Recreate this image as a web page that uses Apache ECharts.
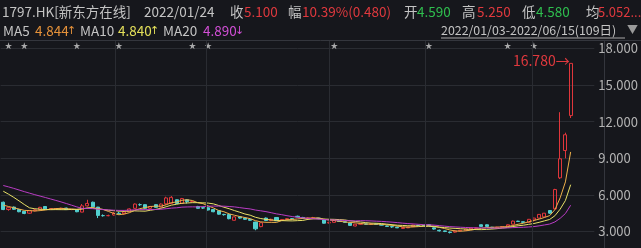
<!DOCTYPE html>
<html><head><meta charset="utf-8">
<script src="https://cdn.jsdelivr.net/npm/echarts@6/dist/echarts.min.js"></script>
<style>html,body{margin:0;padding:0;background:#16171c;}#c{width:641px;height:248px;}</style>
</head><body><div id="c"></div>
<script>
// ---- data (1797.HK 新东方在线, 2022/01/03 - 2022/06/15, 109 trading days) ----
const dates = [
'01/03','01/04','01/05','01/06','01/07','01/10','01/11','01/12','01/13','01/14','01/17','01/18','01/19','01/20','01/21','01/24','01/25','01/26','01/27','01/28','01/31',
'02/04','02/07','02/08','02/09','02/10','02/11','02/14','02/15','02/16','02/17','02/18','02/21','02/22','02/23','02/24','02/25','02/28',
'03/01','03/02','03/03','03/04','03/07','03/08','03/09','03/10','03/11','03/14','03/15','03/16','03/17','03/18','03/21','03/22','03/23','03/24','03/25','03/28','03/29','03/30','03/31',
'04/01','04/04','04/06','04/07','04/08','04/11','04/12','04/13','04/14','04/19','04/20','04/21','04/22','04/25','04/26','04/27','04/28','04/29',
'05/03','05/04','05/05','05/06','05/10','05/11','05/12','05/13','05/16','05/17','05/18','05/19','05/20','05/23','05/24','05/25','05/26','05/27','05/30','05/31',
'06/01','06/02','06/06','06/07','06/08','06/09','06/10','06/13','06/14','06/15'];
const opens = [
5.40,4.80,5.00,4.80,4.65,4.50,4.70,4.80,5.05,4.86,4.85,4.85,4.92,4.80,4.78,4.59,5.10,5.40,5.00,4.30,4.30,
4.35,4.50,4.45,4.62,4.90,5.20,5.20,4.90,5.20,5.00,5.27,5.30,5.60,5.30,5.60,5.45,5.05,
4.95,4.95,4.80,4.70,4.40,4.39,3.92,4.20,4.10,4.00,3.77,3.40,4.10,3.90,4.15,3.90,4.00,4.05,4.25,4.15,4.05,4.10,4.10,
3.95,3.70,3.75,3.88,3.80,3.70,3.45,3.60,3.62,3.60,3.62,3.58,3.45,3.40,3.35,3.25,3.30,3.40,
3.50,3.50,3.55,3.30,3.10,3.05,2.95,2.95,3.05,3.10,3.20,3.25,3.55,3.55,3.35,3.30,3.35,3.45,3.60,3.85,
3.80,3.75,3.95,4.10,4.20,4.72,4.86,7.40,9.64,12.50];
const closes = [
4.80,4.95,4.82,4.62,4.48,4.70,4.78,4.98,4.86,4.88,4.88,4.90,4.80,4.80,4.62,5.10,5.30,5.02,4.32,4.30,4.30,
4.50,4.45,4.60,4.85,5.25,5.20,4.90,5.05,4.98,5.25,5.75,5.80,5.30,5.70,5.45,5.45,4.90,
4.92,4.76,4.62,4.42,4.38,4.05,4.20,4.10,4.00,3.92,3.22,3.72,3.90,4.00,3.88,3.98,4.05,4.02,4.20,4.10,4.10,4.12,4.05,
3.68,3.75,3.90,3.82,3.75,3.50,3.60,3.62,3.60,3.62,3.58,3.52,3.42,3.38,3.30,3.32,3.36,3.52,
3.50,3.48,3.48,3.20,3.05,3.00,2.92,3.05,3.10,3.20,3.28,3.30,3.42,3.42,3.30,3.35,3.40,3.55,3.85,3.82,
3.75,4.00,4.10,4.40,4.50,4.50,6.44,8.96,10.93,16.78];
const lows = [
4.75,4.70,4.78,4.58,4.42,4.45,4.65,4.78,4.82,4.80,4.80,4.82,4.76,4.75,4.58,4.58,5.05,4.98,4.10,4.22,4.25,
4.30,4.40,4.40,4.58,4.85,5.10,4.86,4.85,4.95,4.98,5.20,5.25,5.25,5.28,5.30,5.40,4.88,
4.85,4.72,4.58,4.38,4.30,4.00,3.90,4.05,3.95,3.88,3.10,3.35,3.85,3.85,3.85,3.88,3.95,3.98,4.15,4.05,4.00,4.05,4.00,
3.65,3.65,3.72,3.78,3.72,3.48,3.42,3.55,3.56,3.55,3.55,3.50,3.40,3.30,3.28,3.22,3.28,3.38,
3.45,3.44,3.45,3.15,3.00,2.95,2.84,2.90,3.02,3.08,3.15,3.20,3.40,3.40,3.25,3.28,3.32,3.42,3.58,3.78,
3.70,3.72,3.82,4.08,4.18,4.45,4.80,7.30,9.00,12.30];
const highs = [
5.45,5.00,5.05,4.85,4.68,4.75,4.85,5.02,5.08,4.92,4.92,4.95,4.95,4.85,4.82,5.25,5.60,5.45,5.02,4.40,4.38,
4.60,4.62,4.65,4.90,5.30,5.30,5.22,5.10,5.22,5.30,5.85,5.90,5.62,5.75,5.65,5.50,5.10,
5.00,5.00,4.85,4.72,4.45,4.42,4.25,4.25,4.12,4.02,3.80,3.78,4.15,4.05,4.18,4.02,4.10,4.10,4.30,4.20,4.15,4.20,4.12,
3.98,3.80,3.95,3.90,3.82,3.72,3.62,3.66,3.66,3.65,3.65,3.60,3.48,3.42,3.40,3.35,3.40,3.55,
3.55,3.55,3.58,3.32,3.15,3.08,3.00,3.08,3.12,3.22,3.30,3.32,3.58,3.58,3.38,3.38,3.42,3.58,3.90,3.88,
3.82,4.02,4.12,4.42,4.52,4.75,6.50,12.78,11.10,16.78];
// closes of the trading days before 2022/01/03 (warm-up for the moving averages)
const priorCloses = [7.20,7.30,7.25,7.15,7.20,7.30,7.25,7.20,7.25,7.30,7.35,7.45,7.50,7.45,7.42,5.55,5.30,5.18,5.00];
const yTicks = {min: 3, max: 18, step: 3};
const newsDays = [1,4,14,22,36,39,63,81,96,101];
const monthStarts = [21,38,61,79,99];
const header = {
  code: '1797.HK[新东方在线]', date: '2022/01/24', close: '5.100', chg: '10.39%(0.480)',
  open: '4.590', high: '5.250', low: '4.580', avg: '5.052...',
  ma5: '4.844', ma10: '4.840', ma20: '4.890', range: '2022/01/03-2022/06/15(109日)'
};

// ---- chart ----
const BG = '#16171c', GRID = '#2a2c32', UP = '#e0363b', DOWN = '#52cfcf';
const FONT = '"Noto Sans CJK SC", "Noto Sans", sans-serif';
function ma(n) {
  const all = priorCloses.concat(closes), off = priorCloses.length;
  return closes.map((_, i) => {
    let s = 0; for (let k = 0; k < n; k++) s += all[off + i - k];
    return +(s / n).toFixed(3);
  });
}
const kData = dates.map((d, i) => [opens[i], closes[i], lows[i], highs[i]]);
const STAR_LEVEL = 18.23;

function txt(x, y, text, fill, size, family) {
  return {type: 'text', x: x, y: y, silent: true,
    style: {text: text, fill: fill, font: (size || 13.5) + 'px ' + (family || FONT), verticalAlign: 'middle'}};
}
const GRAY = '#c4c4c4', RED = '#e0393e', GREEN = '#2fbf4f';
const C5 = '#e6923a', C10 = '#e4e05a', C20 = '#d24fd6';
const ARROWF = '"DejaVu Sans", sans-serif';
const graphics = [
  txt(2, 12, header.code, GRAY), txt(144, 12, header.date, GRAY),
  txt(230, 12, '收', GRAY), txt(244, 12, header.close, RED),
  txt(288, 12, '幅', GRAY), txt(302, 12, header.chg, RED),
  txt(404, 12, '开', GRAY), txt(417, 12, header.open, GREEN),
  txt(462, 12, '高', GRAY), txt(477, 12, header.high, RED),
  txt(522, 12, '低', GRAY), txt(536, 12, header.low, GREEN),
  txt(586, 12, '均', GRAY), txt(598, 12, header.avg, RED, 13),
  txt(3, 31, 'MA5', GRAY), txt(35, 31, header.ma5, C5), txt(67, 31, '↑', C5, 11, ARROWF),
  txt(80, 31, 'MA10', GRAY), txt(118, 31, header.ma10, C10), txt(150, 31, '↑', C10, 11, ARROWF),
  txt(163, 31, 'MA20', GRAY), txt(203, 31, header.ma20, C20), txt(235, 31, '↓', C20, 11, ARROWF),
  txt(441, 30, header.range, GRAY, 12.4), txt(627, 30, '▼', '#9a9a9a', 11),
  {type: 'line', silent: true, shape: {x1: 441, y1: 38, x2: 625, y2: 38}, style: {stroke: '#a8a8a8', lineWidth: 1}},
  {type: 'line', silent: true, shape: {x1: 0, y1: 40.5, x2: 641, y2: 40.5}, style: {stroke: '#34363d', lineWidth: 1}}
];

const chart = echarts.init(document.getElementById('c'));
chart.setOption({
  backgroundColor: BG,
  animation: false,
  grid: [
    {left: 0.65, right: 37, top: 48.5, height: 183},
    {left: 0.65, right: 37, top: 41, bottom: 0}
  ],
  xAxis: [
    {type: 'category', gridIndex: 0, data: dates, max: 112, boundaryGap: true,
     axisLine: {show: false}, axisTick: {show: false}, axisLabel: {show: false}, splitLine: {show: false}},
    {type: 'category', gridIndex: 1, data: dates, max: 112, boundaryGap: true,
     axisLine: {show: false}, axisTick: {show: false}, axisLabel: {show: false}, splitLine: {show: false}}
  ],
  yAxis: [
    {type: 'value', gridIndex: 0, position: 'right', min: yTicks.min, max: yTicks.max, interval: yTicks.step,
     axisLine: {show: false}, axisTick: {show: false},
     axisLabel: {color: '#b4b4b4', fontSize: 13, fontFamily: FONT, margin: 4, formatter: v => v.toFixed(3)},
     splitLine: {lineStyle: {color: GRID, width: 1}}},
    {type: 'value', gridIndex: 1, position: 'right', min: 0, max: 1,
     axisLine: {show: true, lineStyle: {color: '#34363d'}}, axisTick: {show: false}, axisLabel: {show: false}, splitLine: {show: false}}
  ],
  series: [
    {type: 'line', xAxisIndex: 1, yAxisIndex: 1, data: [], silent: true,
     markLine: {silent: true, symbol: 'none', label: {show: false},
       lineStyle: {color: GRID, type: 'solid', width: 1},
       data: monthStarts.map(i => ({xAxis: i}))}},
    {type: 'candlestick', xAxisIndex: 0, yAxisIndex: 0, data: kData, barWidth: 3.6, clip: false,
     itemStyle: {color: 'rgba(0,0,0,0)', color0: DOWN, borderColor: UP, borderColor0: DOWN, borderWidth: 1},
     markPoint: {symbol: 'circle', symbolSize: 0, silent: true, data: [
       {type: 'max', valueDim: 'highest',
        label: {show: true, position: 'left', distance: 1, offset: [0, -3], color: RED, fontSize: 14, fontFamily: FONT,
                formatter: p => Number(p.value).toFixed(3) + '→'}},
       {type: 'min', valueDim: 'lowest',
        label: {show: true, position: 'right', distance: 1, color: '#37cc55', fontSize: 14, fontFamily: FONT,
                formatter: p => '←' + Number(p.value).toFixed(3)}}
     ]}},
    {name: 'MA5', type: 'line', data: ma(5), showSymbol: false, clip: false, lineStyle: {color: '#eeb04a', width: 1}},
    {name: 'MA10', type: 'line', data: ma(10), showSymbol: false, clip: false, lineStyle: {color: '#e8e066', width: 1}},
    {name: 'MA20', type: 'line', data: ma(20), showSymbol: false, clip: false, lineStyle: {color: '#b93cc4', width: 1}},
    {type: 'scatter', data: newsDays.map(d => [d, STAR_LEVEL]), clip: false, silent: true,
     symbol: 'path://M50,0 L61,35 L98,35 L68,57 L79,91 L50,70 L21,91 L32,57 L2,35 L39,35 Z',
     symbolSize: 7, itemStyle: {color: '#d0d0d0'}}
  ],
  graphic: graphics
});
</script>
</body></html>
